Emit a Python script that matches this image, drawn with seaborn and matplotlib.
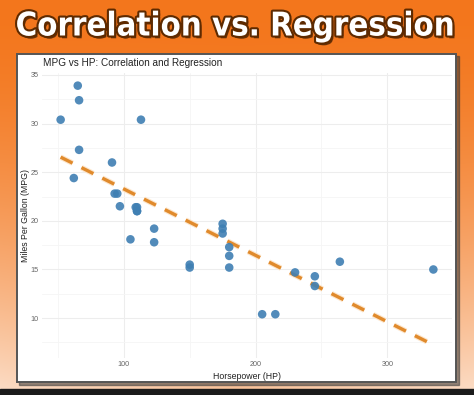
import numpy as np
import pandas as pd
import matplotlib
matplotlib.use("Agg")
import matplotlib.pyplot as plt
import matplotlib.patheffects as pe
from matplotlib.patches import Rectangle
from matplotlib.ticker import MultipleLocator
import seaborn as sns

# mtcars: horsepower vs miles per gallon
hp = [110, 110, 93, 110, 175, 105, 245, 62, 95, 123, 123, 180, 180, 180, 205, 215,
      230, 66, 52, 65, 97, 150, 150, 245, 175, 66, 91, 113, 264, 175, 335, 109]
mpg = [21.0, 21.0, 22.8, 21.4, 18.7, 18.1, 14.3, 24.4, 22.8, 19.2, 17.8, 16.4, 17.3, 15.2, 10.4, 10.4,
       14.7, 32.4, 30.4, 33.9, 21.5, 15.5, 15.2, 13.3, 19.2, 27.3, 26.0, 30.4, 15.8, 19.7, 15.0, 21.4]
x_ticks = [100, 200, 300]
y_ticks = [10, 15, 20, 25, 30, 35]

df = pd.DataFrame({"hp": hp, "mpg": mpg})

W, H = 474, 395
fig = plt.figure(figsize=(W / 100, H / 100), dpi=100)

# orange gradient background
bg = fig.add_axes([0, 0, 1, 1], zorder=0)
t = np.linspace(0, 1, H)[:, None]
u = np.linspace(0, 1, W)[None, :]
orange = np.array([243, 118, 28]) / 255
peach = np.array([252, 222, 200]) / 255
k = (t ** 1.7) * (0.75 + 0.25 * np.abs(u - 0.5) * 2)
img = orange[None, None, :] * (1 - k[..., None]) + peach[None, None, :] * k[..., None]
bg.imshow(img, aspect="auto", extent=[0, W, H, 0])
bg.set_xlim(0, W)
bg.set_ylim(H, 0)
bg.axis("off")

# dark strip at the bottom
bg.add_patch(Rectangle((0, 389), W, 6, color="#1b1b1b", zorder=3))

# white panel with shadow
bg.add_patch(Rectangle((19, 56), 440, 329, color="#3a3a3a", alpha=0.55, zorder=1))
bg.add_patch(Rectangle((17, 54), 439, 328, facecolor="white", edgecolor="#555555",
                       linewidth=1.4, zorder=2))

# big header
head = bg.text(W / 2 - 2, 26, "Correlation vs. Regression", ha="center", va="center",
               color="white", fontweight="bold", fontsize=30,
               family=["DejaVu Sans"], fontstretch="condensed", zorder=4)
fig.canvas.draw()
ext = head.get_window_extent()
head.set_fontsize(30 * 438 / ext.width)
head.set_path_effects([pe.withSimplePatchShadow(offset=(1.5, -2), shadow_rgbFace="#3b1a00", alpha=0.75),
                       pe.Stroke(linewidth=3, foreground="#5e2a00"), pe.Normal()])

# scatter plot
ax = fig.add_axes([42 / W, 1 - 358 / H, 410 / W, (358 - 73) / H], zorder=5)
ax.set_facecolor("none")
sns.regplot(data=df, x="hp", y="mpg", ci=None, scatter=False, ax=ax,
            line_kws=dict(color="#e08a2c", lw=2.4, ls=(0, (4, 3)), zorder=2,
                          path_effects=[pe.Stroke(linewidth=4, foreground="#fde6cc"), pe.Normal()]))
sns.scatterplot(data=df, x="hp", y="mpg", ax=ax, color="#3f7fb3", s=38, alpha=0.9,
                edgecolor="none", zorder=3)

ax.set_xlim(37.85, 349.15)
ax.set_ylim(5.9, 35.2)
ax.set_xticks(x_ticks)
ax.set_yticks(y_ticks)
ax.xaxis.set_minor_locator(MultipleLocator(50))
ax.yaxis.set_minor_locator(MultipleLocator(2.5))
ax.grid(which="major", color="#ededed", lw=0.8)
ax.grid(which="minor", color="#f5f5f5", lw=0.6)
ax.set_axisbelow(True)
for s in ax.spines.values():
    s.set_visible(False)
ax.tick_params(which="both", length=0, labelsize=5.2, labelcolor="#666666", pad=2.5)
for lab in ax.get_xticklabels() + ax.get_yticklabels():
    lab.set_family("Liberation Sans")
ax.set_xlabel("Horsepower (HP)", fontsize=6.3, family="Liberation Sans", color="#222222")
ax.set_ylabel("Miles Per Gallon (MPG)", fontsize=6.3, family="Liberation Sans", color="#222222")
ax.xaxis.set_label_coords(0.5, -0.05)
ax.yaxis.set_label_coords((30 - 42) / 410, 0.5)
fig.text(43 / W, 1 - 63 / H, "MPG vs HP: Correlation and Regression", fontsize=7.2,
         family="Liberation Sans", color="#222222", va="center", ha="left", zorder=6)

fig.savefig("out.png", dpi=100)
